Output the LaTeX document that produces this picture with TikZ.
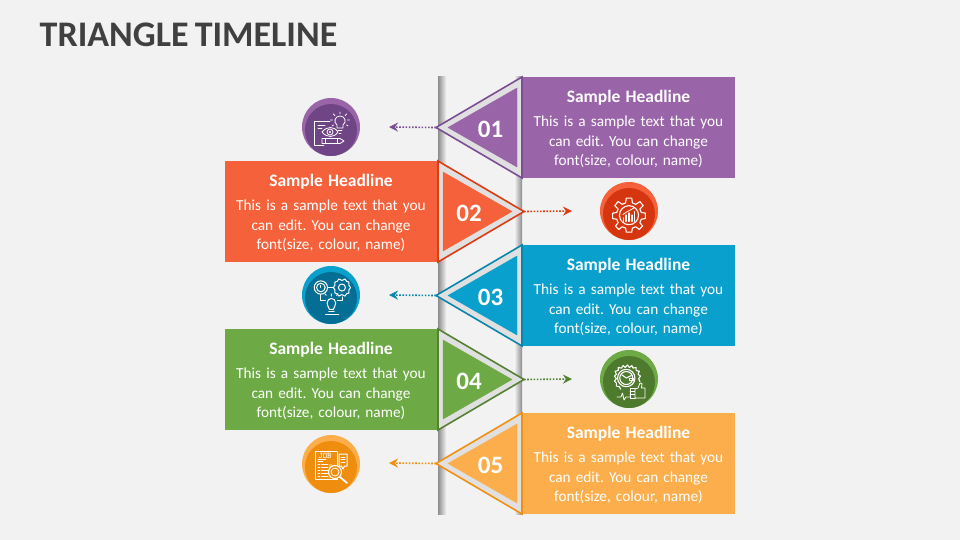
\documentclass[tikz,border=0pt]{standalone}
\usepackage{fontspec}
\setmainfont{Carlito}[WordSpace=0.75]
\usetikzlibrary{arrows.meta,shadings}
\definecolor{bgc}{HTML}{F2F2F2}
\definecolor{titlec}{HTML}{404040}
\definecolor{purA}{HTML}{9964A8}\definecolor{purB}{HTML}{6F4585}\definecolor{purC}{HTML}{7B4E93}
\definecolor{redA}{HTML}{F4613A}\definecolor{redB}{HTML}{D5360F}\definecolor{redC}{HTML}{DC3C12}
\definecolor{bluA}{HTML}{0AA0CD}\definecolor{bluB}{HTML}{046E94}\definecolor{bluC}{HTML}{0A86AC}
\definecolor{grnA}{HTML}{6DAA45}\definecolor{grnB}{HTML}{4E7A2E}\definecolor{grnC}{HTML}{548232}
\definecolor{ambA}{HTML}{FBAE4B}\definecolor{ambB}{HTML}{EE8D0E}\definecolor{ambC}{HTML}{EF9012}
\pgfdeclarehorizontalshading{barL}{100bp}{color(0bp)=(black!45);color(25bp)=(black!45);color(75bp)=(black!6);color(100bp)=(black!6)}
\pgfdeclarehorizontalshading{barR}{100bp}{color(0bp)=(black!6);color(25bp)=(black!6);color(75bp)=(black!45);color(100bp)=(black!45)}
\tikzset{
 x=1pt,y=-1pt,
 panel/.style={text=white,align=center,inner sep=0pt,font=\fontsize{15.3}{19.5}\selectfont,text width=205pt},
 numlabel/.style={text=white,font=\bfseries\fontsize{25}{25}\selectfont,inner sep=0pt},
 link/.style={line width=1.6pt,dash pattern=on 1.6pt off 1.6pt,-{Stealth[length=9pt,width=9pt,inset=3pt]}},
 ic/.style={draw=white,line width=.8pt,fill=none,line cap=round,line join=round},
}
\newcommand{\bodytext}{\frenchspacing{\bfseries\fontsize{17.5}{19}\selectfont Sample Headline}\\[4.5pt]This is a sample text that you\\can edit. You can change\\font(size, colour, name)}
\newcommand{\tleft}[3]{%
 \fill[#3A] (522,#2) rectangle (735,#2+101);
 \fill[black!12] (436,#2+50.5) -- (522,#2) -- (522,#2+101) -- cycle;
 \fill[#3A,draw=#3A,line width=.4pt] (448,#2+50.5) -- (517,#2+11) -- (517,#2+90) -- cycle;
 \draw[#3C,line width=1.6pt,line join=miter] (436,#2+50.5) -- (522,#2) -- (522,#2+101) -- cycle;
 \coordinate (#1) at (436,#2+50.5);
}
\newcommand{\tright}[3]{%
 \fill[#3A] (225,#2) rectangle (438,#2+101);
 \fill[black!12] (524,#2+50.5) -- (438,#2) -- (438,#2+101) -- cycle;
 \fill[#3A,draw=#3A,line width=.4pt] (512,#2+50.5) -- (443,#2+11) -- (443,#2+90) -- cycle;
 \draw[#3C,line width=1.6pt,line join=miter] (524,#2+50.5) -- (438,#2) -- (438,#2+101) -- cycle;
 \coordinate (#1) at (524,#2+50.5);
}
\newcommand{\disc}[4]{%
 \node[circle,fill=#4A,minimum size=58pt,inner sep=0pt] (#1) at (#2,#3) {};
 \begin{scope}
  \clip (#2,#3) circle (29);
  \fill[#4B] (#2,#3+3) circle (26);
 \end{scope}
}
\begin{document}
\begin{tikzpicture}
\useasboundingbox (0,0) rectangle (960,540);
\fill[bgc] (0,0) rectangle (960,540);
\node[anchor=west,inner sep=0pt,text=titlec,font=\bfseries\fontsize{36}{36}\selectfont] (title) at (39.5,35) {TRIANGLE TIMELINE};
\shade[shading=barL] (438,77) rectangle (446,514);
\shade[shading=barR] (514.5,77) rectangle (522,514);
\tleft{a1}{77}{pur}
\tright{a2}{161}{red}
\tleft{a3}{245}{blu}
\tright{a4}{329}{grn}
\tleft{a5}{413}{amb}
\node[numlabel] (n1) at (490.5,129.5) {01};
\node[numlabel] (n2) at (469,213.5) {02};
\node[numlabel] (n3) at (490.5,297.5) {03};
\node[numlabel] (n4) at (469,381.5) {04};
\node[numlabel] (n5) at (490.5,465.5) {05};
\node[panel] (p1) at (628.5,129) {\bodytext};
\node[panel] (p2) at (331,213) {\bodytext};
\node[panel] (p3) at (628.5,297) {\bodytext};
\node[panel] (p4) at (331,381) {\bodytext};
\node[panel] (p5) at (628.5,465) {\bodytext};
\disc{c1}{331}{127}{pur}
\disc{c2}{629}{211}{red}
\disc{c3}{331}{295}{blu}
\disc{c4}{629}{379}{grn}
\disc{c5}{331}{464}{amb}
\coordinate (e1) at (389,127);
\coordinate (e2) at (572,211);
\coordinate (e3) at (389,295);
\coordinate (e4) at (572,379);
\coordinate (e5) at (389,463);
\draw[link,purC] (a1) -- (e1);
\draw[link,redC] (a2) -- (e2);
\draw[link,bluC] (a3) -- (e3);
\draw[link,grnC] (a4) -- (e4);
\draw[link,ambC] (a5) -- (e5);
% icon 1
\begin{scope}[shift={(331,127)},ic]
 \draw (-1,-6) -- (-17,-6) -- (-17,18) -- (-7,18);
 \draw (-13,-2) -- (-6,-2) (-13,1) -- (-9,1);
 \draw[fill=purB] (-9,5) .. controls (-4,-1) and (3,-1) .. (7,5) .. controls (3,11) and (-4,11) .. (-9,5) -- cycle;
 \draw (-1,5) circle (3);
 \fill[white] (-1,5) circle (1.2);
 \draw[fill=purB] (-9,11.5) -- (9,11.5) -- (13,14) -- (9,16.5) -- (-9,16.5) -- cycle;
 \draw (-6,11.5) -- (-6,16.5) (6,11.5) -- (6,16.5);
 \draw (6,1) -- (6,-2) .. controls (2,-5) and (4,-11) .. (9,-11) .. controls (14,-11) and (16,-5) .. (12,-2) -- (12,1) -- cycle;
 \draw (7,3.5) -- (11,3.5) (8,6) -- (10,6);
 \draw (9,-15) -- (9,-13) (2.5,-13) -- (3.8,-11.5) (15.5,-13) -- (14.2,-11.5) (-.5,-7) -- (1.5,-7) (18.5,-7) -- (16.5,-7) (1,-1) -- (2.5,-2) (17,-1) -- (15.5,-2);
\end{scope}
% icon 2
\begin{scope}[shift={(629,214.5)},scale=.68,ic]
 \draw[line width=1.1pt] (-4,-24) -- (4,-24) -- (5,-17) -- (10,-15) -- (16,-19) -- (21,-13) -- (16,-8) -- (18,-3) -- (24,-2) -- (24,6) -- (18,7) -- (16,12) -- (20,17) -- (15,22) -- (10,18) -- (5,20) -- (4,26) -- (-4,26) -- (-5,20) -- (-10,18) -- (-15,22) -- (-20,17) -- (-16,12) -- (-18,7) -- (-24,6) -- (-24,-2) -- (-18,-3) -- (-16,-8) -- (-21,-13) -- (-16,-19) -- (-10,-15) -- (-5,-17) -- cycle;
 \draw[line width=1.1pt] (0,1) circle (14);
 \draw[line width=1.6pt] (-8,10) -- (-8,5) (-4,10) -- (-4,1) (0,10) -- (0,-2) (4,10) -- (4,1) (8,10) -- (8,-4);
 \draw (-9,0) -- (-3,-4) -- (1,-6) -- (8,-10);
\end{scope}
% icon 3
\begin{scope}[shift={(331,293)},scale=.78,ic]
 \draw[line width=1pt] (-13,-7) circle (8.5); \draw[line width=1pt] (-13,-7) circle (5.5);
 \draw (-13,-10) -- (-13,-7);
 \draw (-4,-7) -- (3,-7);
 \draw[line width=1pt] (3,-7) -- (5,-10) -- (5,-14) -- (8,-15) -- (10,-18) -- (14,-16) -- (18,-18) -- (20,-15) -- (23,-14) -- (23,-10) -- (25,-7) -- (23,-4) -- (23,0) -- (20,1) -- (18,4) -- (14,2) -- (10,4) -- (8,1) -- (5,0) -- (5,-4) -- cycle;
 \draw[line width=1pt] (14,-7) circle (4.5);
 \draw (-13,2) -- (-13,10) -- (-7,10);
 \draw (14,5) -- (14,10) -- (8,10);
 \draw[line width=1pt] (-5,13) .. controls (-5,5) and (6,5) .. (6,13) .. controls (6,16) and (4,18) .. (3,21) -- (-2,21) .. controls (-3,18) and (-5,16) .. (-5,13) -- cycle;
 \draw (-3,24) -- (4,24);
 \draw (-7,27) -- (10,27);
 \draw (.5,1) -- (.5,4) (-6,3) -- (-8,1) (7,3) -- (9,1);
\end{scope}
% icon 4
\begin{scope}[shift={(627.5,380.5)},scale=.62,ic]
 \draw[line width=1.1pt] (-7,-24) -- (-4,-21) -- (0,-25) -- (3,-21) -- (7,-24) -- (9,-20) -- (14,-21) -- (14,-16) -- (19,-15) -- (17,-10) -- (21,-7) -- (18,-3) -- (20,2);
 \draw[line width=1.1pt] (-7,-24) -- (-10,-20) -- (-15,-21) -- (-15,-16) -- (-20,-15) -- (-18,-10) -- (-21,-7) -- (-18,-3) -- (-21,1) -- (-18,4) -- (-18,9) -- (-13,10) -- (-11,14);
 \draw[line width=1.1pt] (-2,-4) circle (14);
 \draw[line width=1.1pt] (-2,-4) circle (10.5);
 \draw[line width=1.1pt] (-2,-4) -- (-9,-9) (-2,-4) -- (6,-8);
 \draw (3,-3) rectangle (9,0);
\end{scope}
\begin{scope}[shift={(629,379)},ic]
 \draw (-12,18) -- (-8,18) -- (-6.5,14) -- (-5,21) -- (-3,18) -- (1,18);
 \draw[fill=grnB] (1,9) -- (6,9) -- (6,19) -- (1,19) -- cycle;
 \draw (1,12) -- (6,12) (1,15.5) -- (6,15.5);
 \draw[fill=grnB] (6,10) -- (9,9) -- (11,4) -- (13,4.5) -- (12.5,9) -- (16,9) -- (16,19) -- (6,19) -- cycle;
\end{scope}
% icon 5
\begin{scope}[shift={(331,464)},ic]
 \draw[line width=1pt] (-16,-13) rectangle (6,15);
 \node[draw=none,text=white,inner sep=0pt,font=\bfseries\ttfamily\fontsize{8.5}{8.5}\selectfont] (jobword) at (-6,-8.5) {JOB};
 \draw (-13,-4.5) -- (-5,-4.5) (-13,-2.5) -- (-8,-2.5);
 \foreach \q in {0.5,3.5,6.5,9.5,12.5}{\draw (-13,\q) -- (-11,\q) (-9.5,\q) -- (-3,\q);}
 \fill[white,opacity=.35] (-2,0) rectangle (1,14);
 \draw[line width=1pt,fill=ambB] (8,-10) -- (16,-10) -- (16,2) -- (13.5,2) -- (12,5) -- (10.5,2) -- (8,2) -- cycle;
 \draw (10,-7) -- (14,-7) (10,-4.5) -- (14,-4.5) (10,-2) -- (14,-2);
 \draw[fill=ambB,line width=1.1pt] (4,8) circle (6.5);
 \draw (4,8) circle (4);
 \draw[line width=1.7pt] (9,13) -- (16,19);
\end{scope}
\end{tikzpicture}
\end{document}
